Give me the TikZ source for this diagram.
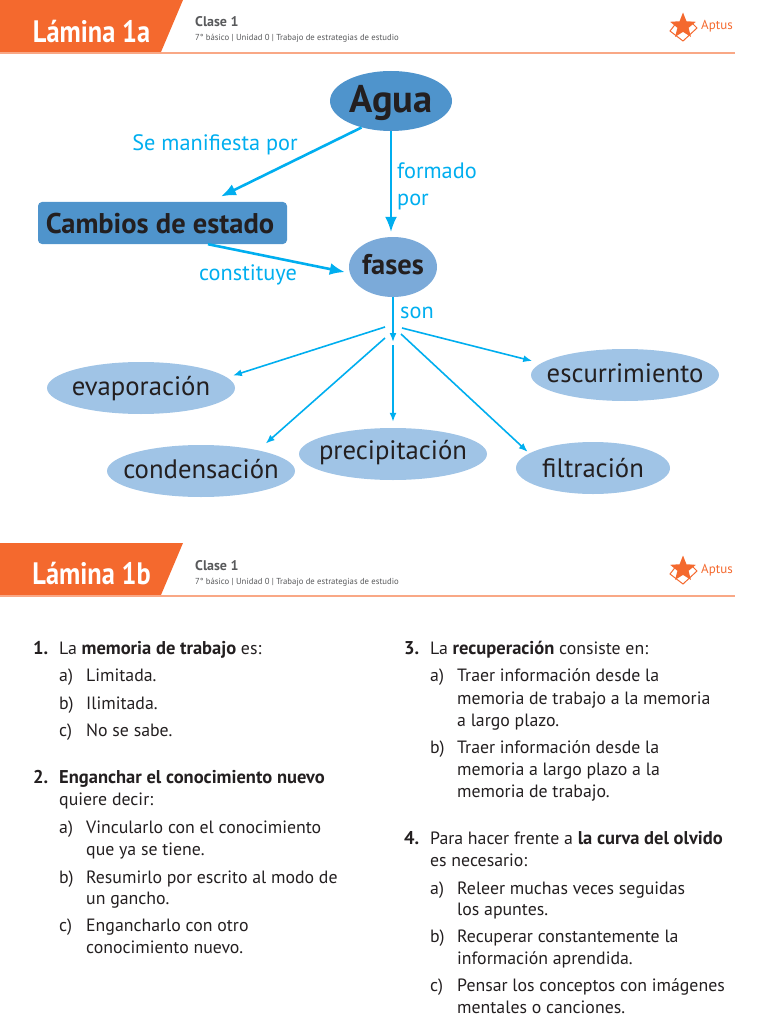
\documentclass[tikz,border=0pt]{standalone}
\usepackage{fontspec}
\setmainfont{PT Sans}
\usetikzlibrary{arrows.meta,shapes.geometric}

\definecolor{naranja}{HTML}{F4692E}
\definecolor{naranjaclaro}{HTML}{F9A886}
\definecolor{celeste}{HTML}{00AEEF}
\definecolor{azul}{HTML}{4F94CC}
\definecolor{azulmedio}{HTML}{7BAAD9}
\definecolor{azulclaro}{HTML}{A0C4E6}
\definecolor{tinta}{HTML}{231F20}
\definecolor{gris}{HTML}{58595B}

\tikzset{
  burbuja/.style={ellipse,fill=azulclaro,inner sep=0pt,minimum width=188pt,minimum height=52pt,
    text=tinta,font=\fontsize{26.7}{30}\selectfont},
  etiqueta/.style={text=celeste,font=\fontsize{22.3}{27}\selectfont,inner sep=0pt},
  flecha/.style={draw=celeste,line width=2.6pt,-{Latex[length=15pt,width=12pt]}},
  flechita/.style={draw=celeste,line width=1.6pt,-{Latex[length=9pt,width=7pt]}},
  linea/.style={anchor=base west,inner sep=0pt,text=tinta,font=\fontsize{17.8}{20}\selectfont},
}

\newcommand{\negrita}[1]{{\fontsize{18.5}{20}\bfseries\selectfont #1}}
\newcommand{\dentro}[2]{\makebox[0pt]{\raisebox{#1}[1ex][0pt]{#2}}}

\newcommand{\encabezado}[2]{%
  \fill[naranja] (0,0) -- (183,0) -- (161,52) -- (0,52) -- cycle;
  \draw[naranjaclaro,line width=1.2pt] (0,53) -- (735,53);
  \node[text=white,font=\fontsize{31}{36}\bfseries\selectfont,xscale=0.85,inner sep=0pt] (titulo#1) at (91.5,31) {#2};
  \node[anchor=base west,inner sep=0pt,text=gris,font=\fontsize{14}{16}\bfseries\selectfont] (clase#1) at (195,27) {Clase 1};
  \node[anchor=base west,inner sep=0pt,text=gris,font=\fontsize{8.7}{10}\selectfont] (unidad#1) at (195,41) {7° básico | Unidad 0 | Trabajo de estrategias de estudio};
  \draw[naranja,line width=1pt] (677,22) -- (670,31) -- (683,41) -- (697,28) -- (691,22);
  \node[star,star points=5,star point ratio=2.3,fill=naranja,inner sep=0pt,minimum size=27pt] (estrella#1) at (683,26) {};
  \node[anchor=base west,inner sep=0pt,text=naranja,font=\fontsize{13}{15}\selectfont] (aptus#1) at (701,30) {Aptus};
}

\begin{document}
\begin{tikzpicture}[x=1pt,y=-1pt]
  \useasboundingbox (0,0) rectangle (768,1024);
  \begin{scope}
    \encabezado{a}{Lámina 1a}
  \end{scope}
  \begin{scope}[shift={(0,543)}]
    \encabezado{b}{Lámina 1b}
  \end{scope}

  % mapa
  \node[ellipse,fill=azul,inner sep=0pt,minimum width=122pt,minimum height=60pt,text=tinta,
    font=\fontsize{38.5}{42}\bfseries\selectfont] (agua) at (391,101) {\dentro{-2pt}{Agua}};
  \node[rectangle,rounded corners=4pt,fill=azul,inner sep=0pt,minimum width=249pt,minimum height=42pt,text=tinta,
    font=\fontsize{28.5}{32}\bfseries\selectfont] (cambios) at (162.5,223) {\dentro{-3pt}{\hspace{-5pt}Cambios de estado}};
  \node[ellipse,fill=azulmedio,inner sep=0pt,minimum width=88pt,minimum height=60pt,text=tinta,
    font=\fontsize{28.5}{32}\bfseries\selectfont] (fases) at (393,267) {\dentro{0pt}{fases}};
  \node[burbuja] (evaporacion) at (141,388) {\dentro{-1pt}{evaporación}};
  \node[burbuja] (condensacion) at (201,471) {\dentro{-1pt}{condensación}};
  \node[burbuja] (precipitacion) at (393,454) {\dentro{1pt}{precipitación}};
  \node[burbuja,minimum width=154pt] (filtracion) at (593,468) {\dentro{-3pt}{filtración}};
  \node[burbuja] (escurrimiento) at (625,375) {\dentro{-1pt}{escurrimiento}};

  \node[etiqueta] (manifiesta) at (215,145) {Se manifiesta por};
  \node[etiqueta,anchor=base west] (formado) at (397,179) {formado};
  \node[etiqueta,anchor=base west] (por) at (397,206) {por};
  \node[etiqueta] (constituye) at (248,275) {constituye};
  \node[etiqueta] (son) at (417,313) {son};

  \coordinate (centro) at (393,342);
  \coordinate (salida1) at (385,327);
  \coordinate (salida2) at (385,338);
  \coordinate (salida3) at (393,345);
  \coordinate (salida4) at (401,334);
  \coordinate (salida5) at (402,328);

  \draw[flecha,shorten >=12pt] (agua.222) -- (cambios.24);
  \draw[flecha,line width=1.8pt,shorten >=5pt] (agua.south) -- (agua.south |- fases.north);
  \draw[flecha,shorten >=5pt] (cambios.-25) -- (fases.188);
  \draw[flechita] (fases.south) -- (centro);
  \draw[flechita,shorten >=6pt] (salida1) -- (evaporacion.7);
  \draw[flechita,shorten >=10pt] (salida2) -- (condensacion.20);
  \draw[flechita,shorten >=6pt] (salida3) -- (precipitacion.north);
  \draw[flechita,shorten >=2pt] (salida4) -- (filtracion.167);
  \draw[flechita,shorten >=9pt] (salida5) -- (escurrimiento.172);

  % preguntas
  \foreach \px/\py/\ptexto [count=\i] in {
    33/648/\negrita{1.},59/648/La \negrita{memoria de trabajo} es:,
    59/675/a),86/675/Limitada.,59/703/b),86/703/Ilimitada.,59/730/c),86/730/No se sabe.,
    33/777/\negrita{2.},59/777/\negrita{Enganchar el conocimiento nuevo},59/799/quiere decir:,
    59/827/a),86/827/Vincularlo con el conocimiento,86/849/que ya se tiene.,
    59/877/b),86/877/Resumirlo por escrito al modo de,86/898/un gancho.,
    59/925/c),86/925/Engancharlo con otro,86/947/conocimiento nuevo.,
    404/648/\negrita{3.},430/648/La \negrita{recuperación} consiste en:,
    430/675/a),457/675/Traer información desde la,457/698/memoria de trabajo a la memoria,457/720/a largo plazo.,
    430/747/b),457/747/Traer información desde la,457/769/memoria a largo plazo a la,457/791/memoria de trabajo.,
    404/838/\negrita{4.},430/838/Para hacer frente a \negrita{la curva del olvido},430/860/es necesario:,
    430/888/a),457/888/Releer muchas veces seguidas,457/909/los apuntes.,
    430/936/b),457/936/Recuperar constantemente la,457/958/información aprendida.,
    430/985/c),457/985/Pensar los conceptos con imágenes,457/1007/mentales o canciones.}
    \node[linea] (linea\i) at (\px,\py+6) {\ptexto};
\end{tikzpicture}
\end{document}
